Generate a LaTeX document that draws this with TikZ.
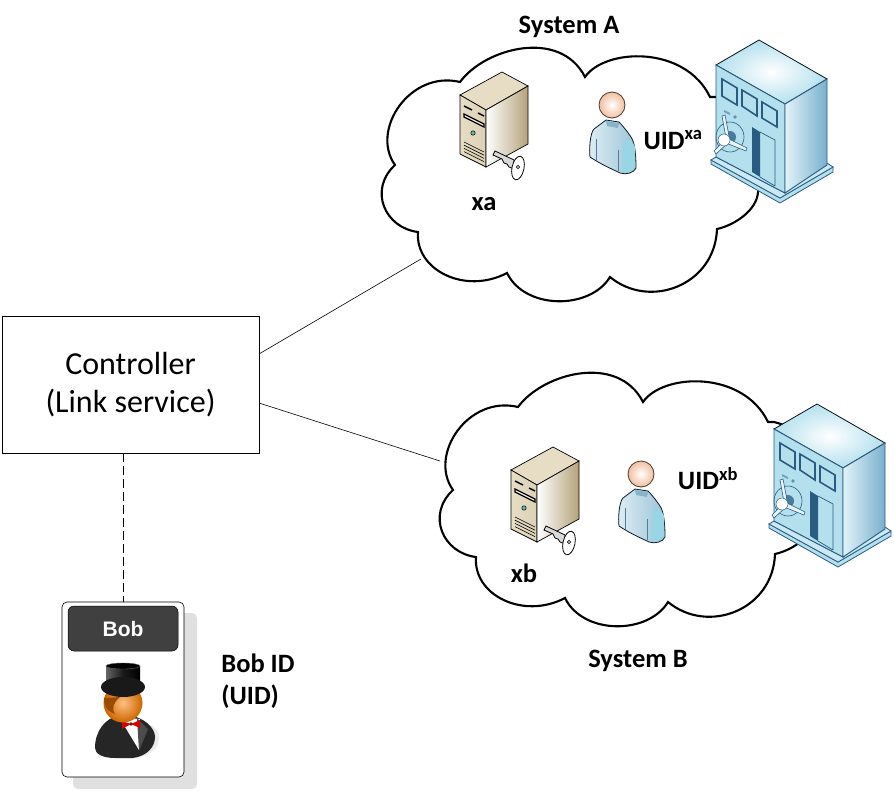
\documentclass[tikz,border=0pt]{standalone}
\usepackage{fontspec}
\setmainfont{Carlito}
\newfontfamily\bobfont{Liberation Sans}
\definecolor{tan}{HTML}{B5A27A}
\definecolor{beige}{HTML}{E6DDC4}
\definecolor{sky}{HTML}{B4E0EE}
\definecolor{steel}{HTML}{2A5B80}
\definecolor{skin}{HTML}{F0BFA0}
\definecolor{shirt}{HTML}{A9D0E2}
\definecolor{wallshade}{HTML}{78B0CE}
\tikzset{
	boxlabel/.style={font=\bfseries\fontsize{26.5}{32}\selectfont, inner sep=0pt},
	pics/cloudarea/.style={code={
		\draw[line width=2.1pt, fill=white] (460,82) .. controls (485,48) and (560,28) .. (585,77)
			.. controls (605,48) and (685,45) .. (710,97) -- (716,97)
			.. controls (770,110) and (770,170) .. (758,192)
			.. controls (757,210) and (735,225) .. (717,229)
			.. controls (715,285) and (650,310) .. (610,277)
			.. controls (590,310) and (525,310) .. (507,273)
			.. controls (465,295) and (415,270) .. (418,232)
			.. controls (385,228) and (368,190) .. (395,165)
			.. controls (370,130) and (410,70) .. (460,82) -- cycle;
	}},
	pics/serverkey/.style={code={
		\draw[fill=beige, line width=0.7pt] (0,0) -- (-42,23) -- (-16,38) -- (26,14) -- cycle;
		\draw[left color=beige, right color=beige!80!tan, line width=0.7pt] (-42,23) -- (-16,38) -- (-16,95) -- (-42,82) -- cycle;
		\draw[left color=white, right color=tan, line width=0.7pt] (-16,38) -- (26,14) -- (26,72) -- (-16,95) -- cycle;
		\draw[line width=1.4pt] (-38,34) -- (-30,38) (-24,41) -- (-18,44);
		\draw[line width=1.2pt, fill=beige!50] (-38,42) -- (-18,52) -- (-18,55) -- (-38,45) -- cycle;
		\draw[fill=teal!60, line width=0.5pt] (-29,61) circle (2.2pt);
		\foreach \i in {0,1,2,3} {
			\draw[line width=0.6pt] (-38,70+\i*3.2) -- (-18,80+\i*3.2);
		}
		\draw[fill=gray!30, line width=0.8pt] (-7,79) -- (12,88) -- (12,97) -- (7,95) -- (5,92) -- (2,91) -- (0,87) -- (-9,83) -- cycle;
		\draw[fill=white, line width=0.8pt, rotate around={-12:(16,96)}] (16,96) ellipse [x radius=6pt, y radius=12pt];
		\draw[fill=gray!70, line width=0.4pt] (16,95) circle (1.8pt);
	}},
	pics/personicon/.style={code={
		\draw[left color=shirt!40, right color=shirt!90!steel, line width=0.8pt, draw=black!70!steel]
			(-6,15) -- (-18,24) .. controls (-22,28) and (-23,45) .. (-22,52)
			.. controls (-10,60) and (0,64) .. (8,68) .. controls (14,70) and (22,68) .. (24,63)
			.. controls (24,50) and (23,38) .. (19,32) .. controls (15,26) and (10,20) .. (7,17) -- cycle;
		\fill[shirt!75!steel] (-6,16) -- (7,18) -- (6,23) -- (-5,21) -- cycle;
		\fill[shirt!90!cyan] (11,37) .. controls (16,32) and (21,36) .. (23,42) -- (23,62) .. controls (20,68) and (14,68) .. (10,66) -- cycle;
		\draw[steel!80, line width=0.6pt] (-16,34) -- (-16,56) (6,45) -- (6,66);
		\draw[inner color=white, outer color=skin, draw=black!70!skin, line width=0.8pt] (0,0) circle (13pt);
	}},
	pics/bankicon/.style={code={
		\draw[fill=sky, draw=steel, line width=0.8pt] (-48,120) -- (21,158) -- (74,127) -- (74,132) -- (21,163) -- (-48,124) -- cycle;
		\draw[fill=sky!70, draw=steel, line width=0.8pt] (-48,120) -- (-43,117) -- (26,153) -- (68,123) -- (74,127) -- (21,158) -- cycle;
		\draw[inner color=white, outer color=sky, draw=black!80!steel, line width=0.8pt] (0,0) -- (-43,25) -- (26,64) -- (68,39) -- cycle;
		\draw[fill=sky, draw=steel, line width=0.9pt] (-43,25) -- (26,64) -- (26,153) -- (-43,117) -- cycle;
		\draw[left color=sky!40, right color=wallshade, draw=steel, line width=0.9pt] (26,64) -- (68,39) -- (68,125) -- (26,153) -- cycle;
		\draw[steel, line width=1.6pt] (-37,39) -- (-22,48) -- (-22,65) -- (-37,56) -- cycle;
		\draw[steel, line width=1.6pt] (-17,50) -- (-2,59) -- (-2,76) -- (-17,66) -- cycle;
		\draw[steel, line width=1.6pt] (3,62) -- (18,71) -- (18,87) -- (3,78) -- cycle;
		\fill[steel] (-7,87) -- (1,92) -- (1,137) -- (-7,132) -- cycle;
		\draw[steel, line width=0.7pt] (1,92) -- (16,100) -- (16,146) (1,137) -- (16,146);
		\fill[steel!50!sky] (-35,70) -- (-29,73) -- (-29,75) -- (-35,72) -- cycle;
		\fill[steel!60!sky] (-24,77) circle (1.8pt);
		\draw[steel, line width=0.6pt] (-29,97) ellipse [x radius=14pt, y radius=15pt];
		\fill[steel!75!sky] (-29,97) circle (6pt);
		\draw[fill=sky!30, draw=steel, line width=0.6pt] (-37,76) -- (-34,75) -- (-30,96) -- (-33,98) -- cycle;
		\draw[fill=sky!30, draw=steel, line width=0.6pt] (-32,98) -- (-12,108) -- (-13,111) -- (-33,103) -- cycle;
		\draw[fill=sky!30, draw=steel, line width=0.6pt] (-34,100) -- (-45,111) -- (-43,114) -- (-31,103) -- cycle;
		\draw[fill=white, draw=steel, line width=0.5pt] (-35,100) circle (6pt);
	}},
	pics/tophat/.style={code={
		\fill[black!8] (28,22) .. controls (42,30) and (38,52) .. (12,55) -- (20,40) -- cycle;
		\fill[black!85] (-3,12) .. controls (-18,15) and (-28,28) .. (-28,45) .. controls (-28,51) and (-20,55) .. (-8,55) -- (10,55) .. controls (24,53) and (32,44) .. (32,34) .. controls (32,25) and (22,15) .. (6,12) -- cycle;
		\fill[white] (-4,14) -- (17,16) -- (16,47) -- cycle;
		\fill[black!70] (14,15) -- (25,26) -- (16,48) -- cycle;
		\fill[red!85!black] (8,21) -- (-1,18) -- (-1,26) -- cycle;
		\fill[red!85!black] (8,21) -- (17,17) -- (17,25) -- cycle;
		\fill[red!60!black] (8,21) circle (1.8pt);
		\shade[inner color=orange!50, outer color=orange!80!black] (0,0) circle (19.5pt);
		\fill[orange!60!black] (-19,-5) .. controls (-19,5) and (-14,9) .. (-8,11) .. controls (-12,5) and (-9,-1) .. (-3,-6) -- cycle;
		\shade[left color=black!60, right color=black, middle color=black!90] (-17,-37) rectangle (17,-14);
		\fill[black!90] (0,-16) ellipse [x radius=22pt, y radius=10pt];
		\draw[black!60, line width=0.4pt, fill=black] (0,-37) ellipse [x radius=17pt, y radius=3pt];
	}},
}
\begin{document}
\begin{tikzpicture}[x=1pt, y=-1pt, node distance={10mm}, main/.style={draw, line width=0.6pt, inner sep=0pt}, thick]
	\useasboundingbox (0,0) rectangle (894,790);

	\pic at (0,0) {cloudarea};
	\pic at (58,325) {cloudarea};
	\pic at (502,72) {serverkey};
	\pic at (553,447) {serverkey};
	\pic at (612,105) {personicon};
	\pic at (641,474) {personicon};
	\pic at (759,40) {bankicon};
	\pic at (817,404) {bankicon};

	\node[main, minimum width=257pt, minimum height=137pt, align=center, font=\fontsize{32}{38}\selectfont] (ctrl) at (130.5,384.5) {Controller\\(Link service)};

	\fill[black!12, rounded corners=5pt] (73,613) rectangle (197,789);
	\node[main, fill=white, rounded corners=5pt, minimum width=122pt, minimum height=175pt] (card) at (123,689.5) {};
	\node[fill=black!75, draw=black, line width=0.5pt, rounded corners=6pt, minimum width=110pt, minimum height=45pt, inner sep=0pt, text=white, font=\bobfont\bfseries\fontsize{21}{24}\selectfont] (bobtag) at (123,628.5) {Bob};
	\pic at (123,703) {tophat};

	\node[boxlabel] (sysa) at (569,27) {System A};
	\node[boxlabel] (sysb) at (638,661) {System B};
	\node[boxlabel] (keya) at (484,204) {xa};
	\node[boxlabel] (keyb) at (524,573) {xb};
	\node[boxlabel] (uida) at (673,140) {UID\textsuperscript{xa}};
	\node[boxlabel] (uidb) at (708,479) {UID\textsuperscript{xb}};
	\node[boxlabel, align=left, anchor=west] (bobid) at (221,681) {Bob ID\\(UID)};

	\coordinate (ctrla) at (259,354);
	\coordinate (ctrlb) at (259,403);
	\coordinate (edgea) at (421,259);
	\coordinate (edgeb) at (440,461);

	\draw[line width=0.6pt] (ctrla) to (edgea);
	\draw[line width=0.6pt] (ctrlb) to (edgeb);
	\draw[line width=0.8pt, dash pattern=on 9pt off 4pt] (ctrl.south -| card.north) to (card.north);
\end{tikzpicture}
\end{document}
